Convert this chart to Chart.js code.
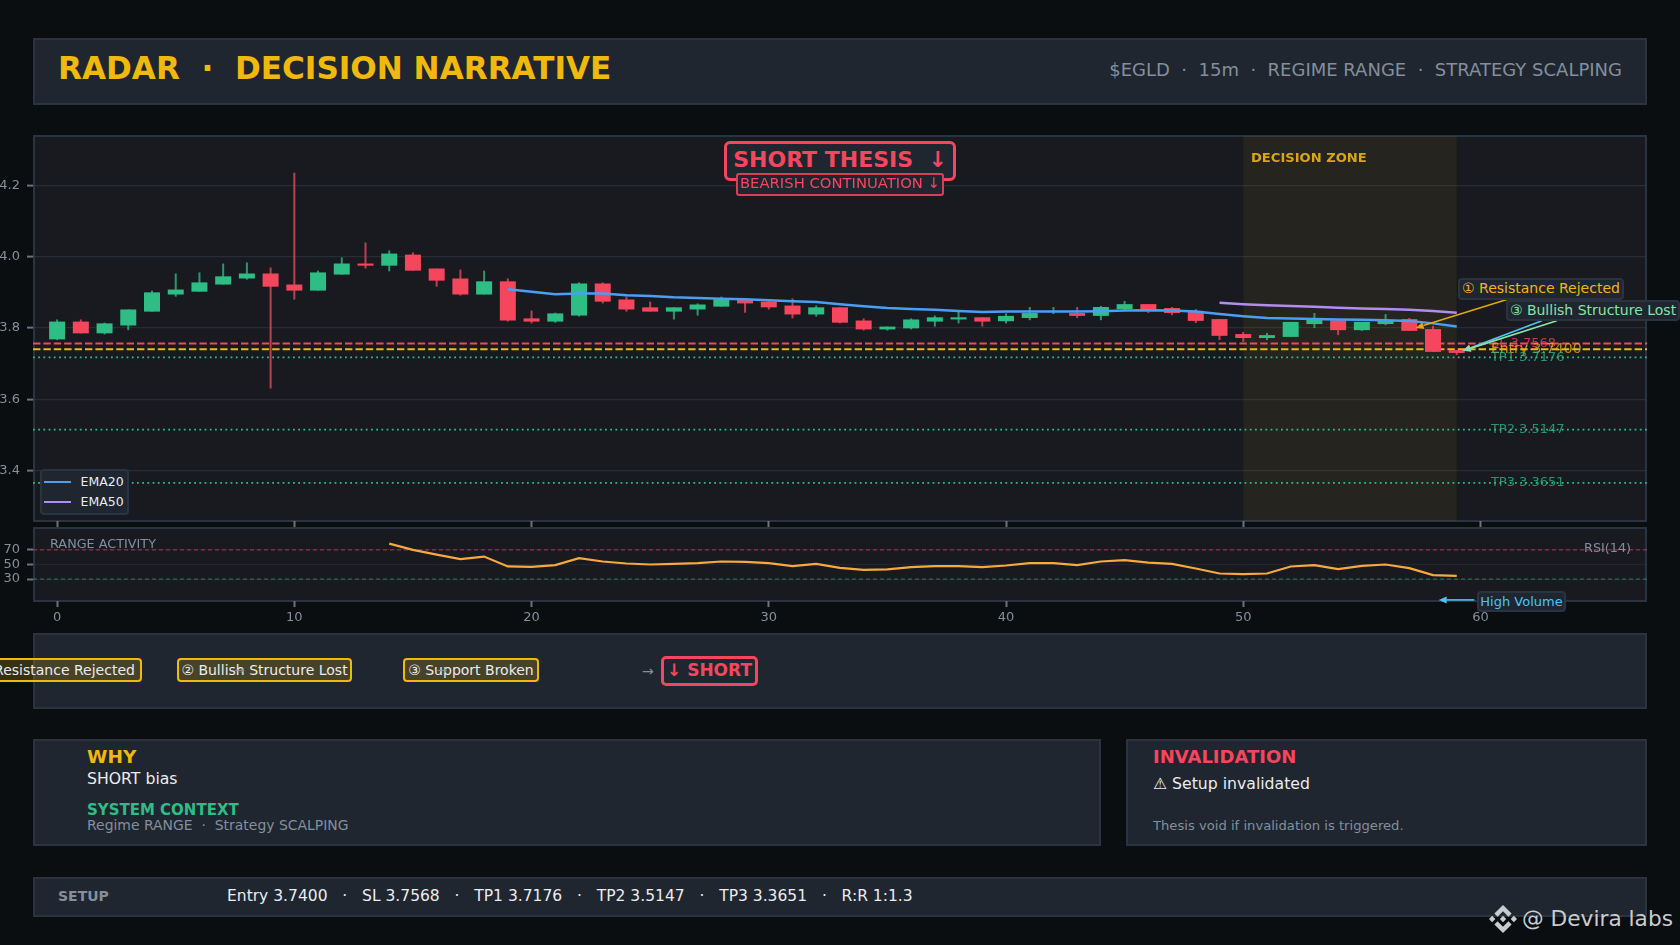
<!DOCTYPE html>
<html><head><meta charset="utf-8">
<script src="https://cdn.jsdelivr.net/npm/chart.js@4"></script>
<style>
html,body{margin:0;padding:0;width:1680px;height:945px;background:#0b0e11;overflow:hidden;font-family:"DejaVu Sans",sans-serif}
.panel,.frame{position:absolute;box-sizing:border-box;border:2px solid #2b3340}
.panel{background:#1f2630}
.frame{background:#181a20}
canvas{position:absolute;left:0}
.t{position:absolute;white-space:pre;transform:translateY(-50%);line-height:1}
.box{position:absolute;box-sizing:border-box;display:flex;align-items:center;justify-content:center;white-space:pre;line-height:1}
.pill{background:rgba(240,185,11,.2);border:2px solid #f0b90b;border-radius:4px;color:#eaecef;font-size:14px;height:24px;top:658px}
.note{background:#1f2630;border:2px solid #2b3340;border-radius:4px;font-size:14px}
</style></head><body>
<div class="panel" style="left:33px;top:38px;width:1614px;height:67px"></div>
<div class="frame" style="left:33px;top:135px;width:1614px;height:387px"></div>
<div class="frame" style="left:33px;top:527px;width:1614px;height:75px"></div>
<div class="panel" style="left:33px;top:633px;width:1614px;height:76px"></div>
<div class="panel" style="left:33px;top:739px;width:1068px;height:107px"></div>
<div class="panel" style="left:1126px;top:739px;width:521px;height:107px"></div>
<div class="panel" style="left:33px;top:877px;width:1614px;height:40px"></div>

<canvas id="main" width="1680" height="395" style="top:136px"></canvas>
<canvas id="rsi" width="1680" height="105" style="top:528px"></canvas>

<div class="t" style="left:58px;top:69px;font-size:31.1px;font-weight:bold;color:#f0b90b">RADAR  ·  DECISION NARRATIVE</div>
<div class="t" style="right:58px;top:69.5px;font-size:18px;color:#848e9c">$EGLD  ·  15m  ·  REGIME RANGE  ·  STRATEGY SCALPING</div>

<div class="box" style="left:724px;top:141px;width:232px;height:40px;background:#1f2630;border:3px solid #f6465d;border-radius:6px;color:#f6465d;font-size:22px;font-weight:bold;align-items:flex-start;padding-top:5px">SHORT THESIS  ↓</div>
<div class="box" style="left:736px;top:173px;width:208px;height:23px;background:#1f2630;border:2px solid #d63f56;border-radius:3px;color:#f6465d;font-size:14.8px;padding-bottom:2px">BEARISH CONTINUATION ↓</div>
<div class="t" style="left:1251px;top:157.5px;font-size:13.1px;font-weight:bold;color:#d9a70e">DECISION ZONE</div>

<div class="box note" style="left:1458px;top:278px;width:166px;height:22px;color:#f0b90b;padding-bottom:2px">① Resistance Rejected</div>
<div class="box note" style="left:1506px;top:300px;width:174px;height:21px;color:#86e3a4;padding-bottom:2px">③ Bullish Structure Lost</div>

<div style="position:absolute;left:40px;top:469px;width:89px;height:46px;box-sizing:border-box;background:#1f2630;border:2px solid #2b3340;border-radius:4px"></div>
<div style="position:absolute;left:44px;top:481px;width:27px;height:2px;background:#4a9ff5"></div>
<div style="position:absolute;left:44px;top:501px;width:27px;height:2px;background:#b18cf2"></div>
<div class="t" style="left:80.5px;top:482px;font-size:12.5px;color:#eaecef">EMA20</div>
<div class="t" style="left:80.5px;top:502px;font-size:12.5px;color:#eaecef">EMA50</div>

<div class="t" style="left:50px;top:544px;font-size:12.8px;color:#848e9c">RANGE ACTIVITY</div>
<div class="t" style="left:1584px;top:548px;font-size:12.8px;color:#848e9c">RSI(14)</div>
<div class="box note" style="left:1477px;top:591px;width:89px;height:21px;color:#4fc3f7;font-size:13px">High Volume</div>

<div class="box pill" style="left:-30px;width:172px">① Resistance Rejected</div>
<div class="box pill" style="left:177px;width:175px">② Bullish Structure Lost</div>
<div class="box pill" style="left:403px;width:136px">③ Support Broken</div>
<div class="t" style="left:234px;top:670px;font-size:12px;color:#848e9c">→</div>
<div class="t" style="left:437px;top:670px;font-size:12px;color:#848e9c">→</div>
<div class="t" style="left:642px;top:671px;font-size:14px;color:#848e9c">→</div>
<div class="box" style="left:661px;top:655.5px;width:97px;height:30.5px;background:#1f2630;border:3px solid #f6465d;border-radius:5px;color:#f6465d;font-size:17px;font-weight:bold">↓ SHORT</div>

<div class="t" style="left:87px;top:756.5px;font-size:18.5px;font-weight:bold;color:#f0b90b">WHY</div>
<div class="t" style="left:87px;top:778.5px;font-size:15.7px;color:#eaecef">SHORT bias</div>
<div class="t" style="left:87px;top:810px;font-size:15px;font-weight:bold;color:#2ebd85">SYSTEM CONTEXT</div>
<div class="t" style="left:87px;top:826px;font-size:13.95px;color:#848e9c">Regime RANGE  ·  Strategy SCALPING</div>

<div class="t" style="left:1153px;top:756.5px;font-size:18px;font-weight:bold;color:#f6465d">INVALIDATION</div>
<div class="t" style="left:1153px;top:784px;font-size:15.7px;color:#eaecef">⚠ Setup invalidated</div>
<div class="t" style="left:1153px;top:825.5px;font-size:13.15px;color:#848e9c">Thesis void if invalidation is triggered.</div>

<div class="t" style="left:58px;top:896px;font-size:14px;font-weight:bold;color:#848e9c">SETUP</div>
<div class="t" style="left:227px;top:897px;font-size:15.52px;color:#eaecef">Entry 3.7400   ·   SL 3.7568   ·   TP1 3.7176   ·   TP2 3.5147   ·   TP3 3.3651   ·   R:R 1:1.3</div>

<svg style="position:absolute;left:1489px;top:905px" width="28" height="28" viewBox="0 0 126.61 126.61"><g fill="#c9cbce"><path d="m38.73 53.2 24.59-24.58 24.6 24.6 14.3-14.31L63.32 0 24.43 38.88zM0 63.31l14.3-14.31 14.31 14.31-14.31 14.3zM38.73 73.41l24.59 24.59 24.6-24.6 14.31 14.29-38.9 38.91-38.91-38.88zM98 63.31l14.3-14.31 14.31 14.3-14.31 14.32z"/><path d="m77.83 63.3-14.51-14.52-10.73 10.73-1.24 1.23-2.54 2.54 14.51 14.5 14.51-14.47z"/></g></svg>
<div class="t" style="left:1522px;top:919px;font-size:21.7px;color:#c9cbce">@ Devira labs</div>

<script>
const OPEN=[3.768,3.818,3.785,3.807,3.846,3.894,3.902,3.922,3.939,3.953,3.922,3.905,3.950,3.981,3.975,4.006,3.967,3.939,3.894,3.931,3.827,3.818,3.835,3.925,3.880,3.858,3.846,3.852,3.860,3.880,3.874,3.863,3.838,3.858,3.821,3.796,3.799,3.818,3.824,3.830,3.819,3.828,3.845,3.842,3.834,3.853,3.867,3.856,3.848,3.825,3.783,3.772,3.775,3.811,3.822,3.794,3.811,3.825,3.797,3.738];
const HIGH=[3.824,3.824,3.815,3.852,3.905,3.953,3.956,3.981,3.984,3.970,4.236,3.961,3.998,4.040,4.018,4.012,3.967,3.964,3.961,3.939,3.849,3.843,3.928,3.928,3.888,3.874,3.858,3.869,3.888,3.884,3.880,3.883,3.863,3.858,3.827,3.804,3.827,3.835,3.846,3.830,3.841,3.859,3.859,3.859,3.862,3.876,3.867,3.859,3.853,3.825,3.789,3.786,3.817,3.842,3.825,3.817,3.839,3.828,3.806,3.738];
const LOW=[3.766,3.785,3.782,3.794,3.846,3.888,3.902,3.922,3.936,3.630,3.880,3.905,3.950,3.967,3.959,3.961,3.916,3.891,3.894,3.818,3.813,3.815,3.832,3.869,3.846,3.846,3.824,3.835,3.860,3.843,3.852,3.827,3.832,3.813,3.793,3.793,3.796,3.804,3.813,3.804,3.813,3.822,3.839,3.828,3.822,3.848,3.842,3.836,3.814,3.766,3.761,3.766,3.775,3.800,3.780,3.792,3.808,3.792,3.733,3.724];
const CLOSE=[3.818,3.785,3.813,3.852,3.900,3.908,3.928,3.945,3.953,3.916,3.905,3.956,3.981,3.975,4.009,3.961,3.933,3.894,3.931,3.821,3.818,3.841,3.925,3.874,3.852,3.846,3.858,3.866,3.883,3.869,3.858,3.838,3.858,3.815,3.796,3.804,3.824,3.830,3.830,3.818,3.834,3.842,3.847,3.834,3.859,3.867,3.848,3.842,3.820,3.778,3.772,3.780,3.817,3.825,3.794,3.817,3.822,3.792,3.733,3.730];
const EMA20_START=19;
const EMA20=[3.909,3.902,3.895,3.897,3.897,3.892,3.890,3.886,3.884,3.882,3.881,3.878,3.875,3.873,3.867,3.861,3.856,3.853,3.851,3.848,3.845,3.846,3.846,3.846,3.846,3.847,3.849,3.850,3.849,3.846,3.839,3.833,3.828,3.827,3.825,3.824,3.823,3.822,3.820,3.813,3.804];
const EMA50_START=49;
const EMA50=[3.871,3.867,3.864,3.862,3.860,3.857,3.855,3.853,3.851,3.848,3.843];
const RSI_START=14;
const RSI=[78.6,70,63.6,57.3,60.9,47.3,46.8,49.1,58.6,54.1,51.4,50,50.9,51.8,54.1,53.6,51.8,47.7,50.9,45.5,42.7,43.2,46.4,47.7,47.7,46.4,48.6,51.8,51.8,49.1,54.1,55.9,52.5,50.9,44.5,37.7,36.8,37.7,47.3,49.1,43.6,48.2,50,45,35.5,34.5];
const LEVEL_NAMES=['SL 3.7568','Entry 3.7400','TP1 3.7176','TP2 3.5147','TP3 3.3651'];
const LEVEL_VALUES=[3.7568,3.74,3.7176,3.5147,3.3651];
const X_TICKS=[0,10,20,30,40,50,60];
const PRICE_TICKS=[3.4,3.6,3.8,4.0,4.2];
const RSI_TICKS=[30,50,70];
const RSI_LEVELS=[70,30];
const ZONE=[50,59];

const XMIN=-1.016,XMAX=67.02,YMIN=3.2582,YMAX=4.339;
const GREEN='#2ebd85',RED='#f6465d',YEL='#f0b90b',GRAY='#848e9c';
const levelColors=[RED,YEL,GREEN,GREEN,GREEN];
const levelDash=[[7.4,3],[7.4,3],[1.8,3.4],[1.8,3.4],[1.8,3.4]];
const up=OPEN.map((o,i)=>CLOSE[i]>=o);
const wickCol=up.map(u=>u?'rgba(46,189,133,.78)':'rgba(246,70,93,.78)');
const bodyCol=up.map(u=>u?GREEN:RED);
const series=(arr,start)=>arr.map((y,i)=>({x:start+i,y}));

const datasets=[];
datasets.push({type:'line',data:ZONE.map(x=>({x,y:YMAX})),fill:'start',backgroundColor:'rgba(240,185,11,.065)',borderWidth:0,pointRadius:0,order:10});
LEVEL_VALUES.forEach((v,i)=>datasets.push({type:'line',data:[{x:XMIN,y:v},{x:XMAX,y:v}],borderColor:levelColors[i],borderWidth:i<2?2:1.8,borderDash:levelDash[i],pointRadius:0,order:5}));
datasets.push({type:'bar',data:OPEN.map((o,i)=>({x:i,y:[LOW[i],HIGH[i]]})),backgroundColor:wickCol,barThickness:2,grouped:false,order:4,inflateAmount:0});
datasets.push({type:'bar',data:OPEN.map((o,i)=>({x:i,y:[Math.min(o,CLOSE[i]),Math.max(o,CLOSE[i])]})),backgroundColor:bodyCol,barThickness:16,grouped:false,order:3,inflateAmount:0});
datasets.push({type:'line',data:series(EMA20,EMA20_START),borderColor:'#4a9ff5',borderWidth:2.5,pointRadius:0,order:1});
datasets.push({type:'line',data:series(EMA50,EMA50_START),borderColor:'#b18cf2',borderWidth:2.5,pointRadius:0,order:2});

function arrow(ctx,x0,y0,x1,y1,col,lw){
  const a=Math.atan2(y1-y0,x1-x0),L=8,W=3.5;
  ctx.save();ctx.strokeStyle=col;ctx.fillStyle=col;ctx.lineWidth=lw;
  ctx.beginPath();ctx.moveTo(x0,y0);ctx.lineTo(x1-L*Math.cos(a),y1-L*Math.sin(a));ctx.stroke();
  ctx.beginPath();ctx.moveTo(x1,y1);
  ctx.lineTo(x1-L*Math.cos(a)+W*Math.sin(a),y1-L*Math.sin(a)-W*Math.cos(a));
  ctx.lineTo(x1-L*Math.cos(a)-W*Math.sin(a),y1-L*Math.sin(a)+W*Math.cos(a));
  ctx.closePath();ctx.fill();ctx.restore();
}
const ANN=[[61.15,3.881,57.27,3.80,'#e0a90c'],[62.59,3.8205,59.25,3.736,'#4fc3f7'],[63.22,3.8205,59.25,3.736,'#86e3a4']];
const LABEL_X=60.44;
const LEVEL_FONT=[13,14,13,13,13];
const mainPlugin={id:'mainNotes',afterDatasetsDraw(c){
  const ctx=c.ctx,xs=c.scales.x,ys=c.scales.y;
  ctx.save();ctx.textBaseline='middle';ctx.textAlign='left';ctx.globalAlpha=.75;
  LEVEL_NAMES.forEach((n,i)=>{ctx.font=LEVEL_FONT[i]+'px "DejaVu Sans"';ctx.fillStyle=levelColors[i];ctx.fillText(n,xs.getPixelForValue(LABEL_X),ys.getPixelForValue(LEVEL_VALUES[i]));});
  ctx.restore();
  ANN.forEach(a=>arrow(ctx,xs.getPixelForValue(a[0]),ys.getPixelForValue(a[1]),xs.getPixelForValue(a[2]),ys.getPixelForValue(a[3]),a[4],1.6));
}};
const gridCol='rgba(60,66,78,.45)';
const axisFont={family:'"DejaVu Sans"',size:13};
const noPad=s=>{s.paddingTop=0;s.paddingBottom=0;s.paddingLeft=0;s.paddingRight=0;};
new Chart(document.getElementById('main'),{
  data:{datasets},plugins:[mainPlugin],
  options:{responsive:false,animation:false,devicePixelRatio:1,
    layout:{padding:{left:0,right:33,top:0,bottom:0}},
    plugins:{legend:{display:false},tooltip:{enabled:false}},
    scales:{
      x:{type:'linear',min:XMIN,max:XMAX,offset:false,afterBuildTicks:s=>{s.ticks=X_TICKS.map(value=>({value}));},afterFit:s=>{s.height=10;noPad(s);},
        ticks:{display:false},border:{display:false},grid:{offset:false,drawOnChartArea:false,tickColor:'#6b7380',tickLength:6,tickWidth:2}},
      y:{type:'linear',min:YMIN,max:YMAX,afterBuildTicks:s=>{s.ticks=PRICE_TICKS.map(value=>({value}));},afterFit:s=>{s.width=33;noPad(s);},
        ticks:{color:GRAY,font:axisFont,padding:7,callback:v=>v.toFixed(1)},border:{display:false},grid:{color:gridCol,lineWidth:1.2,tickColor:'#6b7380',tickLength:6,tickWidth:2}}
    }}
});

const rsiSets=[];
RSI_LEVELS.forEach((v,i)=>rsiSets.push({type:'line',data:[{x:XMIN,y:v},{x:XMAX,y:v}],borderColor:i?'rgba(46,189,133,.6)':'rgba(246,70,93,.65)',borderWidth:1,borderDash:[4,3],pointRadius:0,order:3}));
rsiSets.push({type:'line',data:series(RSI,RSI_START),borderColor:'#f7a93f',borderWidth:2.2,pointRadius:0,order:1});
const HV=[59.74,58.24,1.5];
const rsiPlugin={id:'rsiNote',afterDatasetsDraw(c){
  const xs=c.scales.x,ys=c.scales.y;
  arrow(c.ctx,xs.getPixelForValue(HV[0]),ys.getPixelForValue(HV[2]),xs.getPixelForValue(HV[1]),ys.getPixelForValue(HV[2]),'#4fc3f7',1.6);
}};
new Chart(document.getElementById('rsi'),{
  data:{datasets:rsiSets},plugins:[rsiPlugin],
  options:{responsive:false,animation:false,devicePixelRatio:1,
    layout:{padding:{left:0,right:33,top:0,bottom:0}},
    plugins:{legend:{display:false},tooltip:{enabled:false}},
    scales:{
      x:{type:'linear',min:XMIN,max:XMAX,afterBuildTicks:s=>{s.ticks=X_TICKS.map(value=>({value}));},afterFit:s=>{s.height=32;noPad(s);},
        ticks:{color:GRAY,font:axisFont,padding:3,maxRotation:0,autoSkip:false,callback:v=>String(v)},border:{display:false},grid:{drawOnChartArea:false,tickColor:'#6b7380',tickLength:6,tickWidth:2}},
      y:{type:'linear',min:0,max:100,afterBuildTicks:s=>{s.ticks=RSI_TICKS.map(value=>({value}));},afterFit:s=>{s.width=33;noPad(s);},
        ticks:{color:GRAY,font:axisFont,padding:7,callback:v=>String(v)},border:{display:false},grid:{color:'rgba(60,66,78,.3)',lineWidth:1,tickColor:'#6b7380',tickLength:6,tickWidth:2}}
    }}
});
</script>
</body></html>
